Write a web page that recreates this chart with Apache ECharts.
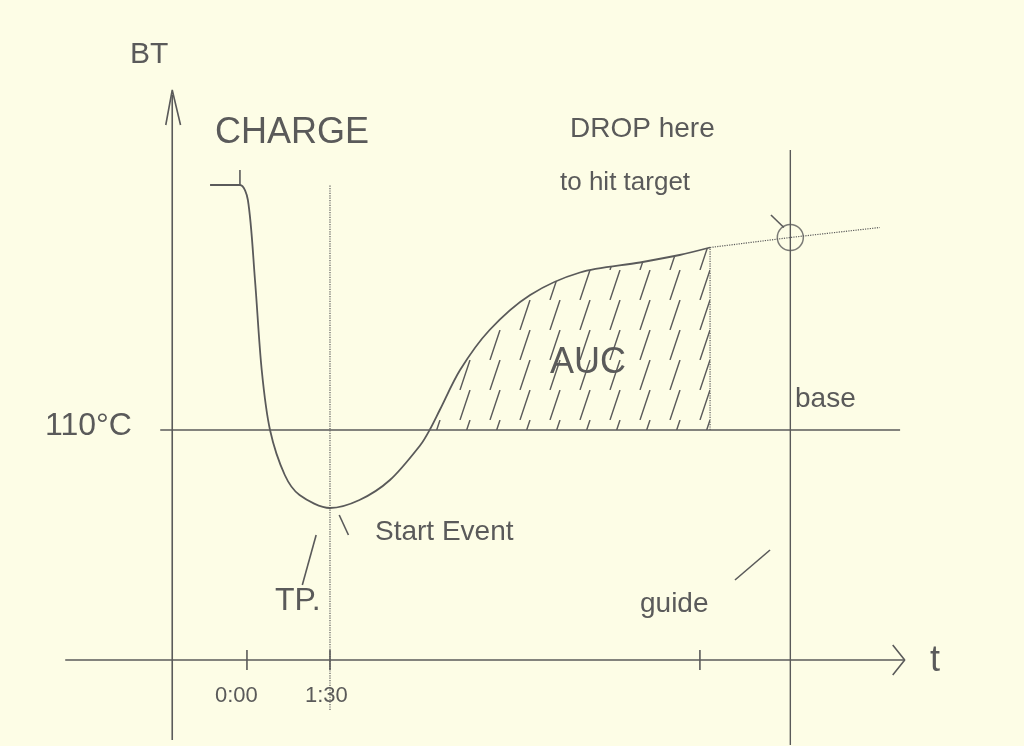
<!DOCTYPE html>
<html><head><meta charset="utf-8">
<script src="https://cdn.jsdelivr.net/npm/echarts@6/dist/echarts.min.js"></script>
<style>html,body{margin:0;background:#fdfde6}#main{width:1024px;height:746px}</style>
</head><body><div id="main"></div>
<script>
// BT curve: [time s, temp °C]
const btCurve = [[-40,208],[-7.6,208],[1,202],[8.7,170],[16,134],[25,110],[41,92],[57,84],[90,78.8],[122,82],[155,90],[188,104],[198,110],[209,118],[231,134],[263,150],[307,164],[361,173],[426,177],[469,180],[502,183]]
const projected = [[502,183],[589,187],[686,191]]
const aucCurve = btCurve.filter(p => p[0] >= 198)
const baseTemp = 110
const tpTime = 90
const dropTime = 589
const tickTimes = [0, 90, 491]

const ink = '#5a5a5a'
const hatch = document.createElement('canvas')
hatch.width = 30; hatch.height = 30
const hc = hatch.getContext('2d')
hc.strokeStyle = ink; hc.lineWidth = 1.4
hc.beginPath(); hc.moveTo(10, 30); hc.lineTo(20, 0); hc.stroke()

const chart = echarts.init(document.getElementById('main'))
const seg = (pts, type, w) => ({
  type: 'line', data: pts, symbol: 'none', silent: true,
  lineStyle: { color: ink, width: w || 1.6, type: type || 'solid' }
})
const font = 'Liberation Sans'
const txt = (x, y, s, size) => ({ type: 'text', x, y, style: { text: s, fill: ink, font: `${size || 30}px ${font}` } })

chart.setOption({
  backgroundColor: '#fdfde6',
  animation: false,
  grid: { left: 0, right: 0, top: 0, bottom: 0 },
  xAxis: { type: 'value', min: -267.7, max: 842.3, show: false },
  yAxis: { type: 'value', min: -16.4, max: 282, show: false },
  series: [
    seg([[-81,-14],[-81,244]]),
    seg([[-88,232],[-81,246],[-72,232]]),
    seg([[-197,18],[713,18]]),
    seg([[700,24],[713,18],[700,12]]),
    seg([[-94,baseTemp],[708,baseTemp]]),
    seg([[tpTime,-2],[tpTime,208]], 'dotted', 1.2),
    seg([[502,baseTemp],[502,183]], 'dotted', 1.2),
    seg([[dropTime,-16],[dropTime,222]], 'solid', 1.4),
    seg(projected, 'dotted', 1.2),
    ...tickTimes.map(t => seg([[t,14],[t,22]])),
    seg([[-7.6,208],[-7.6,214]]),
    seg([[60,48],[75,68]]),
    seg([[100,76],[110,68]]),
    seg([[568,196],[582,191]]),
    seg([[529,50],[567,62]]),
    Object.assign(seg(btCurve, 'solid', 1.8), { smooth: 0.3 }),
    {
      type: 'line', data: aucCurve, symbol: 'none', smooth: 0.3, silent: true,
      lineStyle: { width: 0 },
      areaStyle: { origin: baseTemp, color: { image: hatch, repeat: 'repeat' }, opacity: 1 }
    },
    {
      type: 'scatter', data: [[dropTime,187]], symbol: 'circle', symbolSize: 26,
      itemStyle: { color: 'transparent', borderColor: ink, borderWidth: 1.5 }
    }
  ],
  graphic: [
    txt(130, 40, 'BT'),
    txt(215, 115, 'CHARGE', 36),
    txt(570, 115, 'DROP here', 28),
    txt(560, 170, 'to hit target', 26),
    txt(550, 345, 'AUC', 36),
    txt(795, 385, 'base', 28),
    txt(45, 410, '110°C', 32),
    txt(375, 518, 'Start Event', 28),
    txt(275, 585, 'TP.', 32),
    txt(640, 590, 'guide', 28),
    txt(930, 643, 't', 36),
    txt(215, 685, '0:00', 22),
    txt(305, 685, '1:30', 22)
  ]
})
</script></body></html>
